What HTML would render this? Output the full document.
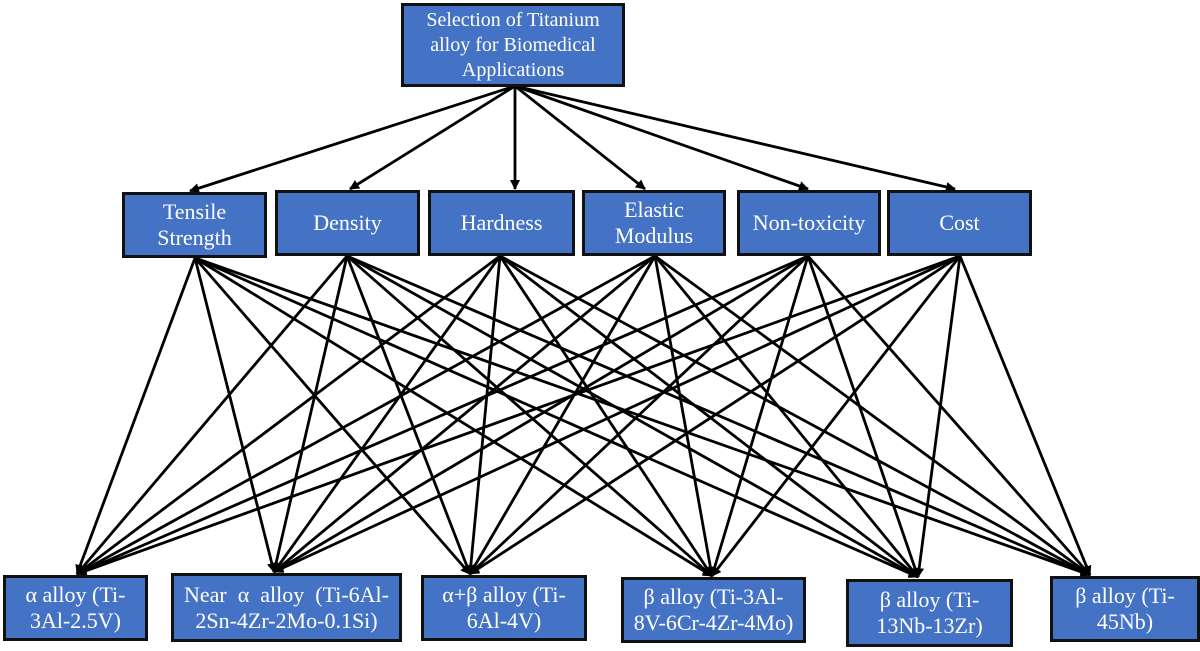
<!DOCTYPE html>
<html><head><meta charset="utf-8"><style>
body{margin:0;background:#fff;width:1200px;height:651px;overflow:hidden;position:relative;font-family:"Liberation Serif",serif}
.b{position:absolute;background:#4472C4;border:3px solid #111;box-sizing:border-box;color:#fff;display:flex;align-items:center;justify-content:center;text-align:center;font-size:22px;line-height:26px}
svg{position:absolute;left:0;top:0}
</style></head><body>
<svg width="1200" height="651">
<defs><marker id="a" markerWidth="10" markerHeight="10" refX="9" refY="5" orient="auto" markerUnits="userSpaceOnUse"><path d="M0,0L10,5L0,10z" fill="#000"/></marker></defs>
<g stroke="#000" stroke-width="2.8" marker-end="url(#a)">
<line x1="515" y1="86" x2="190" y2="191"/>
<line x1="515" y1="86" x2="350" y2="189"/>
<line x1="515" y1="86" x2="515" y2="189"/>
<line x1="515" y1="86" x2="645" y2="189"/>
<line x1="515" y1="86" x2="808" y2="189"/>
<line x1="515" y1="86" x2="955" y2="189"/>
</g>
<g id="L" stroke="#000" stroke-width="2.8" marker-end="url(#a)"></g>
</svg>
<script>
var tops=[[195,258],[347,256],[500,256],[655,256],[808,256],[960,256]];
var bots=[[77,574],[274,572],[470,574],[712,576],[918,577],[1090,575]];
var g=document.getElementById('L'),s='';
tops.forEach(function(t){bots.forEach(function(b){s+='<line x1="'+t[0]+'" y1="'+t[1]+'" x2="'+b[0]+'" y2="'+b[1]+'"/>';});});
g.innerHTML=s;
</script>
<div class="b" style="left:401px;top:3px;width:224px;height:84px;font-size:20px;line-height:25px">Selection of Titanium<br>alloy for Biomedical<br>Applications</div>
<div class="b" style="left:122px;top:192px;width:145px;height:66px">Tensile<br>Strength</div>
<div class="b" style="left:275px;top:190px;width:145px;height:66px">Density</div>
<div class="b" style="left:428px;top:190px;width:147px;height:66px">Hardness</div>
<div class="b" style="left:582px;top:190px;width:144px;height:66px">Elastic<br>Modulus</div>
<div class="b" style="left:737px;top:190px;width:144px;height:66px">Non-toxicity</div>
<div class="b" style="left:887px;top:190px;width:145px;height:66px">Cost</div>
<div class="b" style="left:3px;top:575px;width:145px;height:66px">α alloy (Ti-<br>3Al-2.5V)</div>
<div class="b" style="left:171px;top:573px;width:231px;height:69px">Near&nbsp; α&nbsp; alloy&nbsp; (Ti-6Al-<br>2Sn-4Zr-2Mo-0.1Si)</div>
<div class="b" style="left:421px;top:575px;width:166px;height:66px">α+β alloy (Ti-<br>6Al-4V)</div>
<div class="b" style="left:621px;top:577px;width:185px;height:66px">β alloy (Ti-3Al-<br>8V-6Cr-4Zr-4Mo)</div>
<div class="b" style="left:846px;top:579px;width:167px;height:68px">β alloy (Ti-<br>13Nb-13Zr)</div>
<div class="b" style="left:1050px;top:576px;width:150px;height:66px">β alloy (Ti-<br>45Nb)</div>
</body></html>
